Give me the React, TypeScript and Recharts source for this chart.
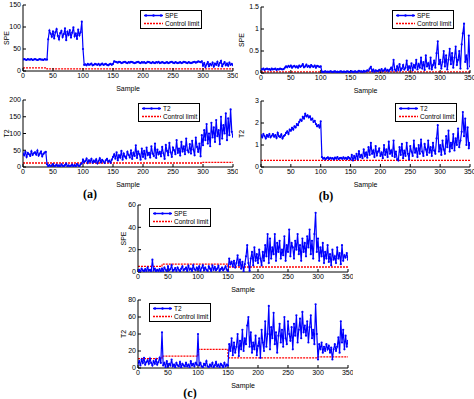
import { LineChart, Line, XAxis, YAxis } from 'recharts'

// samples are taken every 2 steps: index i -> sample i*2 (0..350)
const speA = [
  26, 27, 26, 25, 27, 26, 26, 27, 25, 26,
  27, 26, 25, 26, 27, 26, 26, 25, 27, 26,
  26, 72, 92, 85, 78, 90, 74, 88, 95, 80,
  72, 86, 91, 77, 84, 97, 70, 89, 82, 93,
  76, 87, 99, 79, 85, 73, 94, 81, 88, 112,
  50, 14, 15, 13, 16, 14, 15, 17, 13, 14,
  16, 15, 14, 16, 13, 15, 17, 14, 15, 16,
  14, 13, 15, 16, 14, 16, 22, 21, 20, 19,
  21, 20, 18, 19, 20, 21, 19, 18, 20, 19,
  21, 20, 19, 18, 19, 20, 21, 19, 18, 20,
  19, 20, 18, 19, 21, 20, 19, 18, 20, 19,
  18, 20, 19, 21, 18, 19, 20, 19, 18, 19,
  20, 18, 19, 20, 21, 19, 18, 20, 19, 18,
  19, 20, 18, 19, 21, 20, 19, 18, 20, 19,
  18, 19, 20, 21, 19, 20, 22, 21, 20, 22,
  12, 18, 9, 15, 20, 11, 16, 13, 19, 10,
  17, 14, 21, 12, 18, 23, 11, 16, 20, 13,
  17, 12, 19, 14, 16, 13,
]
const t2A = [
  40, 35, 45, 30, 42, 38, 33, 47, 36, 41,
  44, 37, 49, 34, 40, 46, 32, 39, 43, 45,
  8, 3, 6, 1, 5, 9, 2, 4, 7, 3,
  5, 1, 8, 4, 2, 6, 10, 3, 5, 1,
  4, 7, 2, 6, 3, 9, 5, 2, 8, 11,
  22, 14, 18, 25, 12, 20, 16, 24, 13, 19,
  15, 23, 11, 18, 26, 14, 21, 17, 12, 20,
  24, 16, 19, 13, 22, 30, 38, 25, 44, 20,
  35, 28, 48, 22, 40, 31, 26, 45, 36, 29,
  50, 24, 42, 33, 65, 27, 46, 38, 22, 55,
  30, 48, 25, 58, 36, 42, 28, 62, 40, 33,
  70, 27, 52, 38, 45, 32, 60, 41, 24, 66,
  48, 35, 72, 44, 30, 58, 50, 38, 80, 42,
  55, 34, 75, 46, 62, 38, 85, 50, 44, 68,
  40, 78, 52, 35, 88, 60, 45, 70, 32, 95,
  65, 110, 80, 128, 70, 100, 62, 132, 88, 118,
  75, 140, 92, 110, 68, 150, 85, 125, 100, 160,
  80, 145, 95, 172, 105, 90,
]
const speB = [
  0.09, 0.08, 0.1, 0.07, 0.09, 0.1, 0.08, 0.09, 0.07, 0.1,
  0.08, 0.09, 0.1, 0.07, 0.09, 0.08, 0.1, 0.09, 0.08, 0.09,
  0.12, 0.15, 0.13, 0.16, 0.14, 0.17, 0.12, 0.15, 0.16, 0.13,
  0.15, 0.12, 0.17, 0.14, 0.16, 0.2, 0.13, 0.15, 0.19, 0.14,
  0.16, 0.13, 0.18, 0.15, 0.14, 0.17, 0.12, 0.16, 0.15, 0.14,
  0.15, 0.03, 0.02, 0.03, 0.04, 0.02, 0.03, 0.02, 0.04, 0.03,
  0.02, 0.03, 0.04, 0.02, 0.03, 0.02, 0.03, 0.04, 0.02, 0.03,
  0.03, 0.02, 0.04, 0.03, 0.02, 0.03, 0.04, 0.02, 0.03, 0.04,
  0.02, 0.03, 0.05, 0.03, 0.04, 0.02, 0.05, 0.03, 0.04, 0.06,
  0.05, 0.1, 0.14, 0.04, 0.08, 0.03, 0.06, 0.05, 0.04, 0.07,
  0.05, 0.09, 0.04, 0.06, 0.1, 0.05, 0.07, 0.04, 0.08, 0.12,
  0.06, 0.3, 0.08, 0.05, 0.15, 0.07, 0.2, 0.06, 0.1, 0.18,
  0.08, 0.12, 0.28, 0.07, 0.15, 0.1, 0.22, 0.06, 0.18, 0.12,
  0.3, 0.08, 0.2, 0.12, 0.35, 0.1, 0.25, 0.07, 0.4, 0.15,
  0.22, 0.1, 0.35, 0.08, 0.18, 0.28, 0.12, 0.45, 0.72, 0.2,
  0.3, 0.1, 0.25, 0.5, 0.15, 0.4, 0.08, 0.3, 0.55, 0.2,
  0.45, 0.12, 0.35, 0.6, 0.18, 0.3, 0.5, 0.1, 0.65, 0.9,
  1.12, 0.25, 0.4, 0.1, 0.85, 0.15,
]
const t2B = [
  1.45, 1.35, 1.5, 1.4, 1.3, 1.45, 1.38, 1.5, 1.35, 1.42,
  1.5, 1.38, 1.45, 1.32, 1.55, 1.4, 1.36, 1.48, 1.3, 1.4,
  1.45, 1.55, 1.62, 1.5, 1.7, 1.65, 1.78, 1.7, 1.85, 1.8,
  1.95, 1.9, 2.05, 2.15, 2.1, 2.28, 2.2, 2.42, 2.3, 2.35,
  2.25, 2.3, 2.15, 2.2, 2.05, 2.1, 1.95, 1.85, 1.9, 1.8,
  2.08, 0.45, 0.38, 0.42, 0.35, 0.4, 0.44, 0.36, 0.42, 0.38,
  0.4, 0.35, 0.43, 0.38, 0.45, 0.36, 0.4, 0.42, 0.37, 0.44,
  0.38, 0.42, 0.36, 0.45, 0.4, 0.35, 0.55, 0.3, 0.5, 0.38,
  0.6, 0.35, 0.72, 0.45, 0.55, 0.4, 0.8, 0.5, 0.65, 0.42,
  0.9, 0.55, 1.1, 0.6, 0.75, 0.45, 0.95, 0.52, 0.7, 0.85,
  0.5, 0.65, 0.4, 1.0, 0.55, 0.8, 0.45, 1.15, 0.6, 0.75,
  0.5, 1.2, 0.45, 0.7, 0.35, 0.3, 0.9, 0.55, 1.05, 0.4,
  0.75, 0.5, 1.1, 0.6, 0.35, 0.95, 0.7, 0.5, 1.2, 0.65,
  0.85, 0.45, 1.0, 0.6, 1.25, 0.7, 0.5, 1.05, 0.8, 0.55,
  1.2, 0.65, 0.9, 0.5, 1.1, 0.75, 0.6, 1.3, 1.9, 0.7,
  1.0, 0.55, 1.2, 0.8, 0.6, 1.4, 0.9, 1.65, 0.7, 1.1,
  0.85, 1.5, 0.75, 1.3, 1.0, 1.75, 0.9, 1.2, 1.6, 2.5,
  1.4, 2.2, 1.0, 1.8, 0.85, 1.1,
]
const speC = [
  1, 2, 0.5, 3, 1.5, 0.8, 2.5, 1, 4, 1.2,
  2, 0.5, 11, 1.5, 3, 0.8, 2, 1, 2.5, 0.5,
  3, 1, 4, 2, 0.8, 5, 1.5, 2.5, 6, 1,
  2, 3.5, 1, 4, 2, 0.5, 3, 5, 1.5, 2.5,
  4, 1, 5.5, 2, 3, 1, 6, 2.5, 1.5, 4,
  2, 5, 1, 3.5, 6, 1.5, 4, 2, 0.8, 5,
  3, 1, 6, 2, 4.5, 1.5, 3, 5.5, 1, 2.5,
  4, 1.5, 3, 5, 2, 0.5, 12, 7, 9, 5,
  10, 4, 8, 15, 6, 11, 3, 9, 0.5, 7,
  14, 24, 8, 1, 12, 18, 6, 22, 10, 16,
  8, 20, 12, 6, 18, 10, 24, 14, 34, 8,
  30, 12, 22, 16, 34, 10, 26, 18, 28, 12,
  20, 15, 32, 10, 24, 18, 38, 14, 26, 22,
  12, 28, 20, 34, 16, 24, 10, 30, 18, 26,
  14, 32, 22, 38, 16, 28, 12, 34, 53, 18,
  30, 10, 22, 14, 26, 8, 18, 12, 24, 9,
  16, 6, 20, 11, 14, 8, 22, 12, 17, 7,
  24, 10, 15, 13, 17, 11,
]
const t2C = [
  5, 8, 3, 10, 6, 12, 4, 7, 9, 5,
  11, 6, 3, 8, 5, 10, 4, 7, 12, 6,
  42, 3, 6, 1, 8, 2, 5, 3, 10, 2,
  4, 1, 6, 3, 2, 7, 1, 5, 3, 2,
  6, 2, 4, 1, 8, 3, 5, 2, 6, 4,
  40, 3, 6, 2, 1, 5, 3, 8, 2, 1,
  4, 2, 6, 1, 3, 7, 2, 4, 1, 5,
  3, 1, 6, 2, 4, 3, 28, 20, 35, 15,
  30, 18, 25, 40, 14, 32, 22, 45, 20, 35,
  28, 50, 60, 25, 42, 18, 30, 22, 38, 15,
  26, 35, 12, 45, 30, 20, 55, 25, 40, 73,
  22, 48, 35, 65, 28, 42, 18, 38, 52, 30,
  45, 25, 60, 35, 28, 55, 40, 32, 48, 22,
  52, 38, 62, 30, 45, 58, 35, 66, 42, 50,
  38, 55, 30, 48, 62, 35, 45, 28, 75, 40,
  10, 28, 22, 30, 18, 25, 20, 28, 22, 26,
  18, 24, 10, 22, 28, 20, 25, 36, 18, 55,
  30, 45, 22, 38, 25, 32,
]

// control limits as [start sample, value]
const limSpeA = [[0, 7], [40, 5]]
const limT2A = [[0, 12], [300, 14]]
const limSpeB = [[0, 0.025]]
const limT2B = [[0, 0.3]]
const limSpeC = [[0, 5], [40, 7], [150, 4.5]]
const limT2C = [[0, 11], [40, 14], [100, 22], [150, 12], [300, 13]]

const xTicks = [0, 50, 100, 150, 200, 250, 300, 350]

const FONT = '"Liberation Sans", Arial, sans-serif'
const BLUE = '#0000ff'
const RED = '#ff0000'

function build(vals: number[], limits: number[][]) {
  return vals.map((v, i) => {
    const x = i * 2
    let c = limits[0][1]
    for (const [s, val] of limits) if (x >= s) c = val
    return { x, v, c }
  })
}

const noTick = () => null

function LegendBox({ left, top, name }: { left: number; top: number; name: string }) {
  return (
    <div
      style={{
        position: 'absolute',
        left,
        top,
        width: 62,
        height: 19,
        border: '1px solid #000',
        background: '#fff',
        boxSizing: 'border-box',
        fontFamily: FONT,
        fontSize: 6.5,
        color: '#000',
      }}
    >
      <svg width={60} height={17} style={{ position: 'absolute', left: 0, top: 0 }}>
        <line x1={3} x2={22} y1={4.5} y2={4.5} stroke={BLUE} strokeWidth={1.4} />
        {[5, 12.5, 20].map((cx) => (
          <circle key={cx} cx={cx} cy={4.5} r={1.2} fill={BLUE} />
        ))}
        <line x1={3} x2={22} y1={12.5} y2={12.5} stroke={RED} strokeWidth={1.3} strokeDasharray="2 1" />
      </svg>
      <div style={{ position: 'absolute', left: 24, top: 0.5, lineHeight: '8px' }}>{name}</div>
      <div style={{ position: 'absolute', left: 24, top: 8.5, lineHeight: '8px', whiteSpace: 'nowrap' }}>
        Control limit
      </div>
    </div>
  )
}

interface PanelProps {
  l: number
  t: number
  w: number
  h: number
  vals: number[]
  limits: number[][]
  yMax: number
  yTicks: number[]
  name: string
  labelOffset: number
  legend: [number, number]
}

function Panel({ l, t, w, h, vals, limits, yMax, yTicks, name, labelOffset, legend }: PanelProps) {
  const data = build(vals, limits)
  const tickStyle = { fontSize: 7, fill: '#000', fontFamily: FONT }
  return (
    <>
      <div style={{ position: 'absolute', left: l - 30, top: t - 5 }}>
        <LineChart width={w + 35} height={h + 27} data={data} margin={{ top: 5, right: 5, bottom: 0, left: 0 }}>
          <XAxis
            dataKey="x"
            type="number"
            domain={[0, 350]}
            ticks={xTicks}
            allowDataOverflow
            height={22}
            tick={tickStyle}
            tickSize={-3}
            tickMargin={5}
            stroke="#000"
            label={{ value: 'Sample', position: 'insideBottom', offset: 2, style: { ...tickStyle } }}
          />
          <XAxis
            xAxisId="top"
            orientation="top"
            type="number"
            domain={[0, 350]}
            ticks={xTicks}
            height={0}
            tick={noTick}
            tickSize={-3}
            stroke="#000"
          />
          <YAxis
            type="number"
            domain={[0, yMax]}
            ticks={yTicks}
            allowDataOverflow
            width={30}
            tick={tickStyle}
            tickSize={-3}
            tickMargin={5}
            stroke="#000"
            label={{
              value: name,
              angle: -90,
              position: 'insideLeft',
              offset: labelOffset,
              style: { ...tickStyle, textAnchor: 'middle' },
            }}
          />
          <YAxis
            yAxisId="right"
            orientation="right"
            type="number"
            domain={[0, yMax]}
            ticks={yTicks}
            width={0}
            tick={noTick}
            tickSize={-3}
            stroke="#000"
          />
          <Line
            dataKey="c"
            type="stepAfter"
            stroke={RED}
            strokeWidth={1.3}
            strokeDasharray="2 1"
            dot={false}
            isAnimationActive={false}
          />
          <Line
            dataKey="v"
            type="linear"
            stroke={BLUE}
            strokeWidth={1.2}
            dot={{ r: 1.1, fill: BLUE, stroke: 'none' }}
            isAnimationActive={false}
          />
        </LineChart>
      </div>
      <LegendBox left={l + legend[0]} top={t + legend[1]} name={name} />
    </>
  )
}

function PanelLabel({ x, y, text }: { x: number; y: number; text: string }) {
  return (
    <div
      style={{
        position: 'absolute',
        left: x,
        top: y,
        transform: 'translate(-50%, -50%)',
        fontFamily: '"Liberation Serif", "Times New Roman", serif',
        fontWeight: 'bold',
        fontSize: 12,
        color: '#000',
      }}
    >
      {text}
    </div>
  )
}

export default function App() {
  return (
    <div style={{ position: 'absolute', left: 0, top: 0, width: 474, height: 399, background: '#fff', overflow: 'hidden' }}>
      <Panel l={23} t={5} w={210} h={66} vals={speA} limits={limSpeA} yMax={150} yTicks={[0, 50, 100, 150]} name="SPE" labelOffset={14} legend={[117, 5]} />
      <Panel l={23} t={100} w={210} h={67} vals={t2A} limits={limT2A} yMax={200} yTicks={[0, 50, 100, 150, 200]} name="T2" labelOffset={14} legend={[115, 3]} />
      <Panel l={261} t={7} w={209} h={66} vals={speB} limits={limSpeB} yMax={1.5} yTicks={[0, 0.5, 1, 1.5]} name="SPE" labelOffset={11} legend={[131, 3]} />
      <Panel l={261} t={101} w={209} h={66} vals={t2B} limits={limT2B} yMax={3} yTicks={[0, 1, 2, 3]} name="T2" labelOffset={11} legend={[134, 2]} />
      <Panel l={138} t={205} w={210} h={67} vals={speC} limits={limSpeC} yMax={60} yTicks={[0, 20, 40, 60]} name="SPE" labelOffset={16} legend={[11, 3]} />
      <Panel l={138} t={300} w={210} h={68} vals={t2C} limits={limT2C} yMax={80} yTicks={[0, 20, 40, 60, 80]} name="T2" labelOffset={16} legend={[11, 3]} />
      <PanelLabel x={90} y={194} text="(a)" />
      <PanelLabel x={326} y={196} text="(b)" />
      <PanelLabel x={190} y={393} text="(c)" />
    </div>
  )
}
